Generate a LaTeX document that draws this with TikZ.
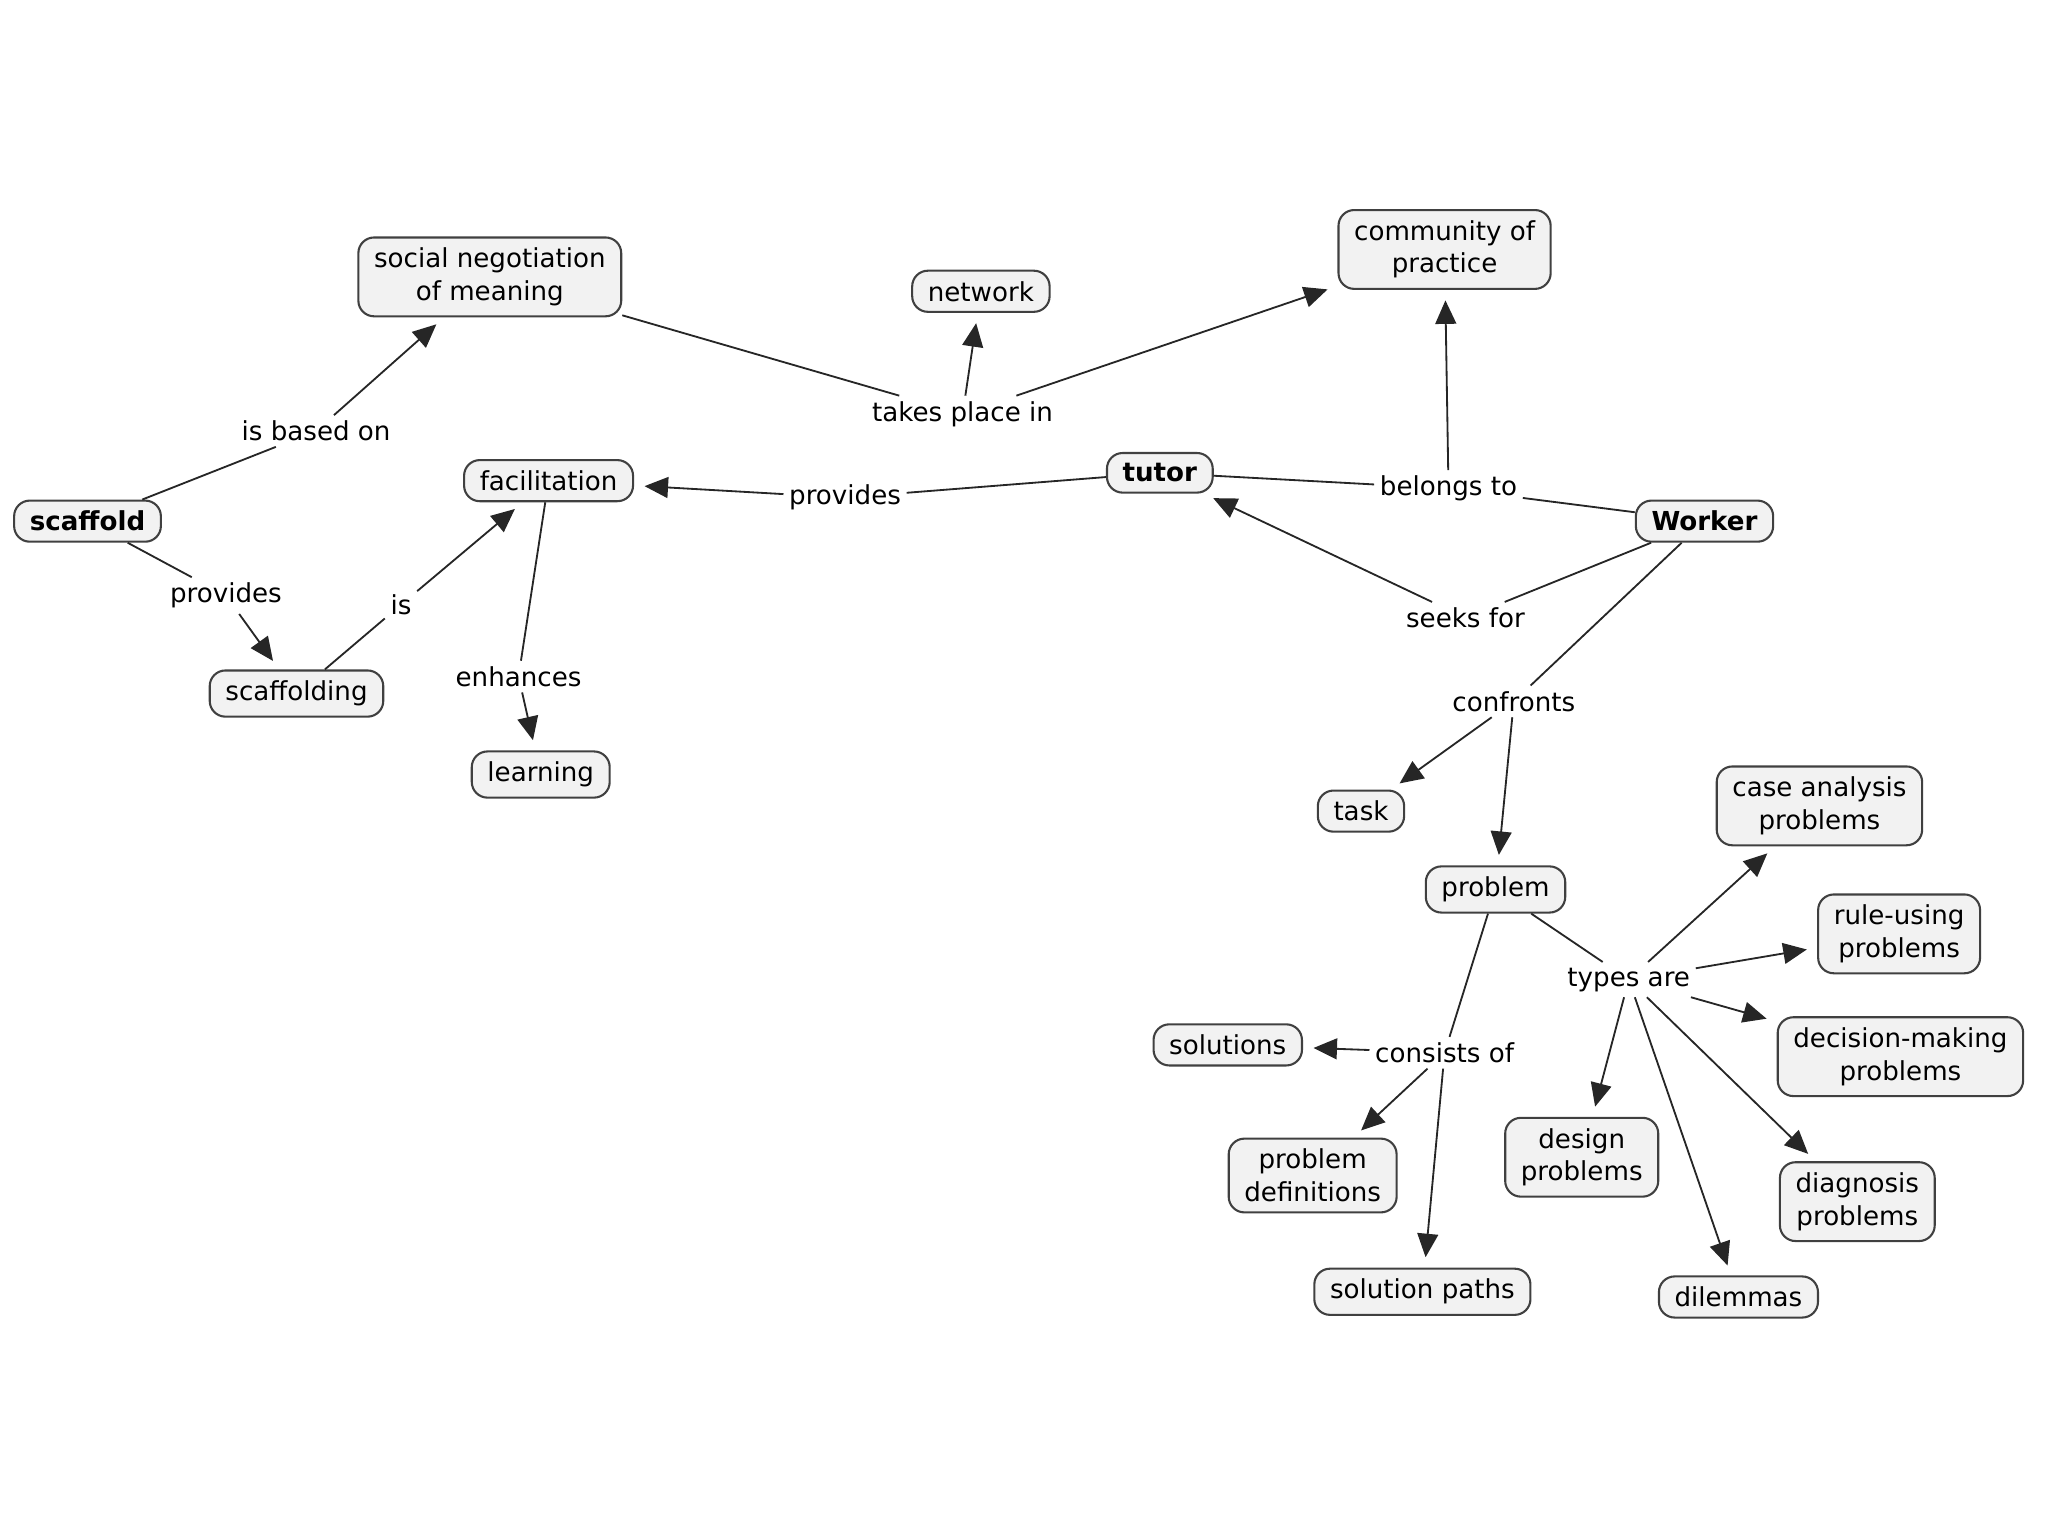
\documentclass[tikz,border=0pt]{standalone}
\usepackage{fontspec}
\setmainfont{DejaVu Sans}
\usetikzlibrary{arrows.meta}
\begin{document}
\begin{tikzpicture}[x=0.5pt,y=-0.5pt,
 box/.style={draw=black!75,line width=0.8pt,rounded corners=6pt,fill=gray!10,align=center,inner xsep=6pt,inner ysep=4pt,font=\fontsize{10}{12.5}\selectfont},
 lbl/.style={fill=white,inner sep=2pt,font=\fontsize{10}{12}\selectfont},
 ln/.style={draw=black!85,line width=0.7pt},
 arr/.style={ln,-{Triangle[length=9pt,width=8pt]},shorten >=4pt}]
\useasboundingbox (0,0) rectangle (1568,1176);
\node[box] (soc) at (375,212) {social negotiation\\of meaning};
\node[box] (net) at (751,223) {network};
\node[box] (com) at (1106,191) {community of\\practice};
\node[box,font=\bfseries\fontsize{10}{12.5}\selectfont] (scf) at (67,399) {scaffold};
\node[box] (fac) at (420,368) {facilitation};
\node[box,font=\bfseries\fontsize{10}{12.5}\selectfont] (tut) at (888,362) {tutor};
\node[box,font=\bfseries\fontsize{10}{12.5}\selectfont] (wor) at (1305,399) {Worker};
\node[box] (scg) at (227,531) {scaffolding};
\node[box] (lea) at (414,593) {learning};
\node[box] (tas) at (1042,621) {task};
\node[box] (pro) at (1145,681) {problem};
\node[box] (cas) at (1393,617) {case analysis\\problems};
\node[box] (rul) at (1454,715) {rule-using\\problems};
\node[box] (dec) at (1455,809) {decision-making\\problems};
\node[box] (sol) at (940,800) {solutions};
\node[box] (pdf) at (1005,900) {problem\\definitions};
\node[box] (des) at (1211,886) {design\\problems};
\node[box] (dia) at (1422,920) {diagnosis\\problems};
\node[box] (sop) at (1089,989) {solution paths};
\node[box] (dil) at (1331,993) {dilemmas};

\node[lbl] (l1) at (242,330) {is based on};
\node[lbl] (l2) at (737,317) {takes place in};
\node[lbl] (l3) at (647,381) {provides};
\node[lbl] (l4) at (1109,374) {belongs to};
\node[lbl] (l5) at (1122,473) {seeks for};
\node[lbl] (l6) at (1159,537) {confronts};
\node[lbl] (l7) at (173,456) {provides};
\node[lbl] (l8) at (307,463) {is};
\node[lbl] (l9) at (397,518) {enhances};
\node[lbl] (l10) at (1247,750) {types are};
\node[lbl] (l11) at (1106,806) {consists of};

\draw[ln] (scf) -- (l1); \draw[arr] (l1) -- (soc);
\draw[ln] (soc) -- (l2); \draw[arr] (l2) -- (net); \draw[arr] (l2) -- (com);
\draw[ln] (tut) -- (l3); \draw[arr] (l3) -- (fac);
\draw[ln] (tut) -- (l4); \draw[ln] (wor) -- (l4); \draw[arr] (l4) -- (com);
\draw[ln] (wor) -- (l5); \draw[arr] (l5) -- (tut);
\draw[ln] (wor) -- (l6); \draw[arr] (l6) -- (tas); \draw[arr] (l6) -- (pro);
\draw[ln] (scf) -- (l7); \draw[arr] (l7) -- (scg);
\draw[ln] (scg) -- (l8); \draw[arr] (l8) -- (fac);
\draw[ln] (fac) -- (l9); \draw[arr] (l9) -- (lea);
\draw[ln] (pro) -- (l10);
\draw[arr] (l10) -- (cas); \draw[arr] (l10) -- (rul); \draw[arr] (l10) -- (dec);
\draw[arr] (l10) -- (dia); \draw[arr] (l10) -- (dil); \draw[arr] (l10) -- (des);
\draw[ln] (pro) -- (l11);
\draw[arr] (l11) -- (sol); \draw[arr] (l11) -- (pdf); \draw[arr] (l11) -- (sop);
\end{tikzpicture}
\end{document}
